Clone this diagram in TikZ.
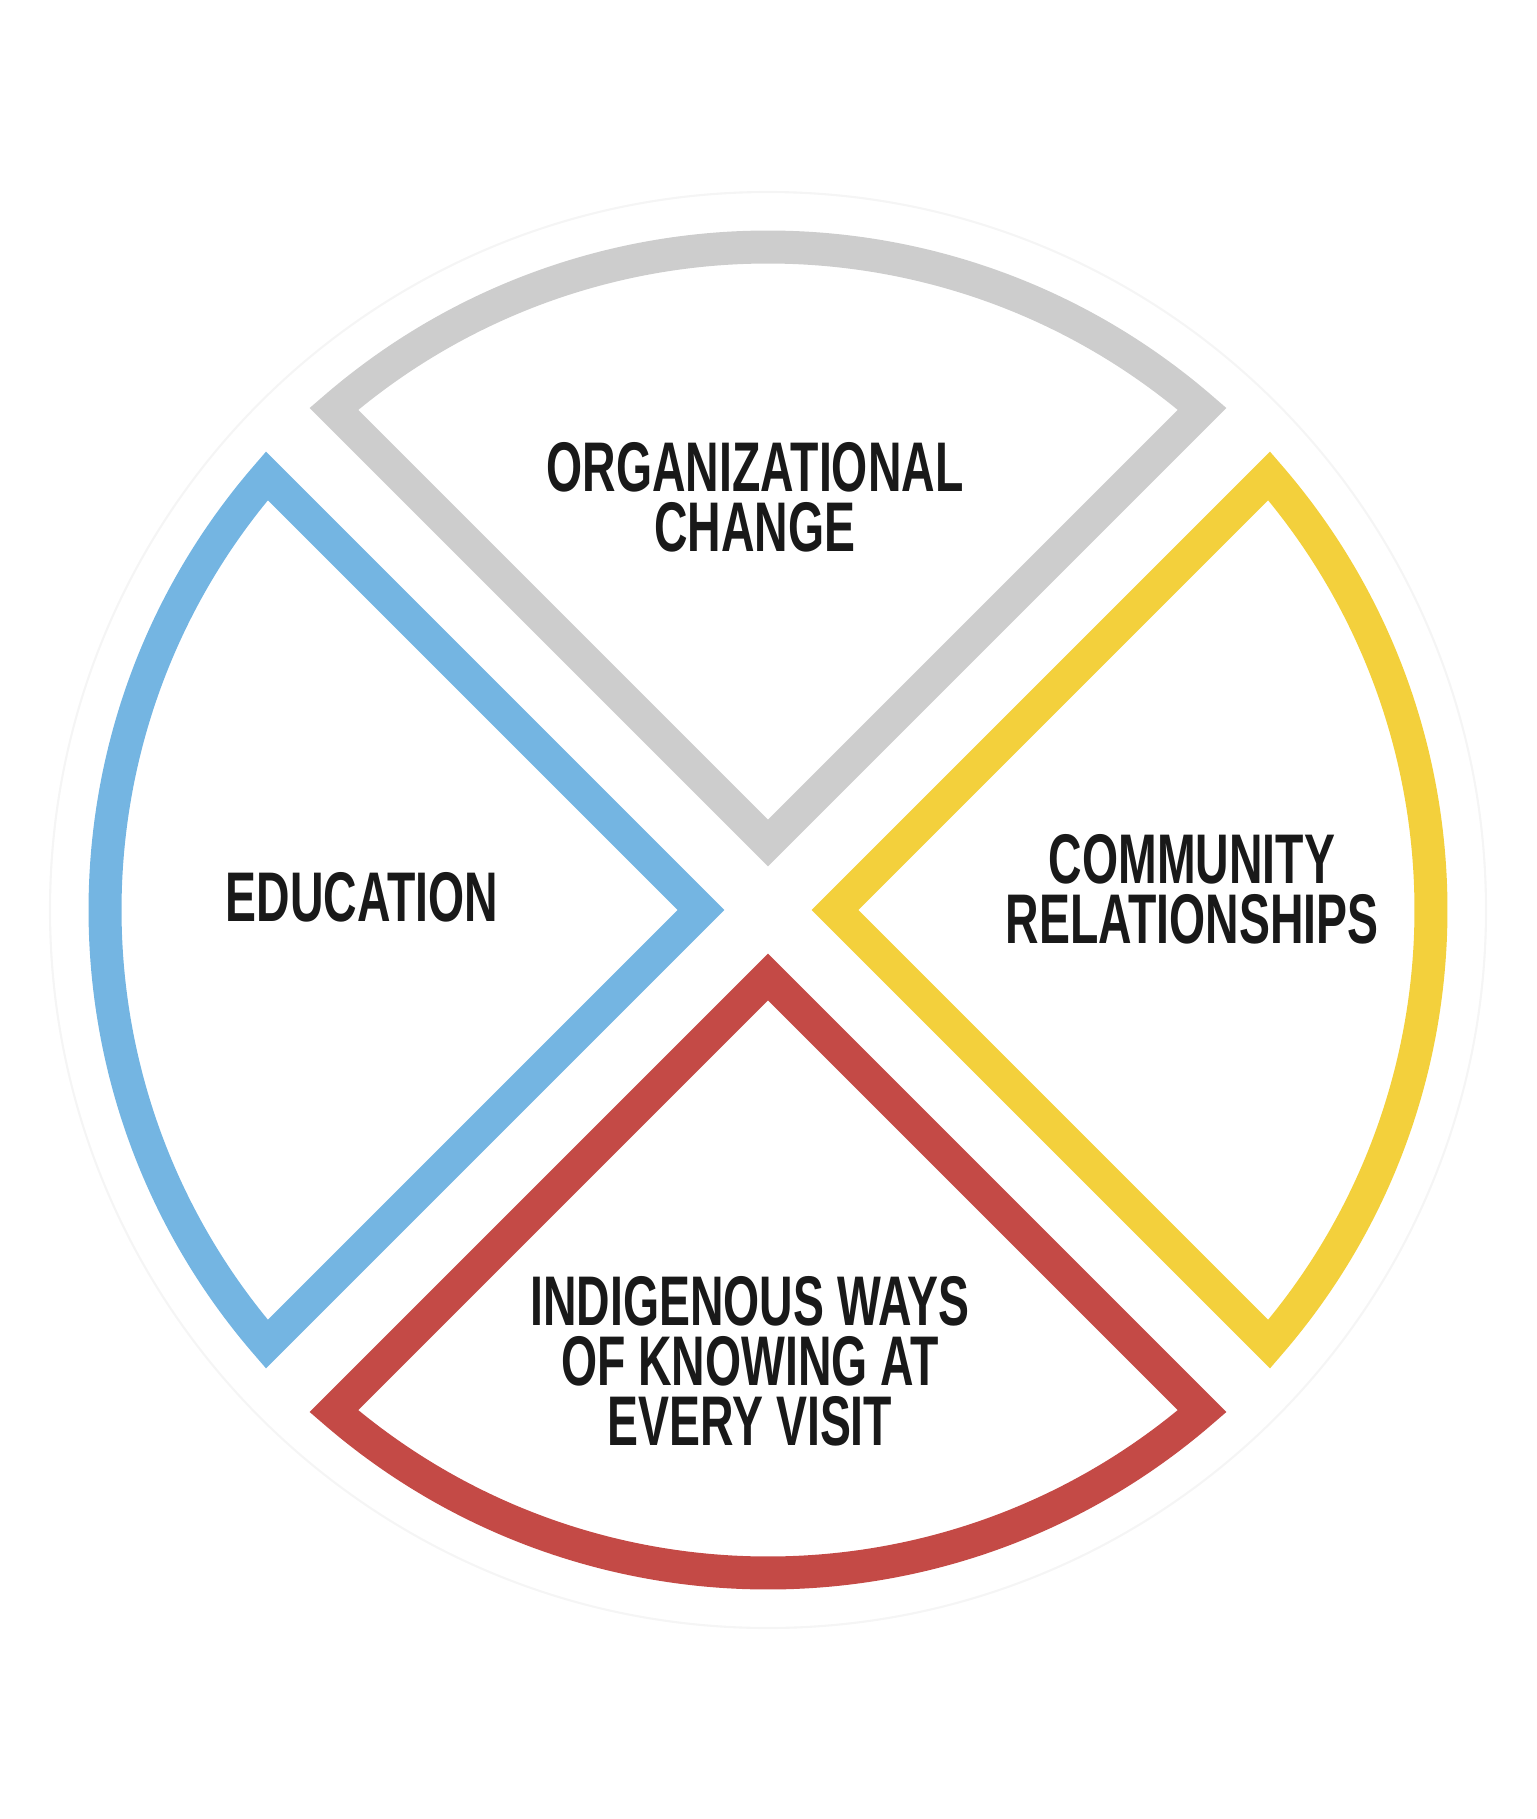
\documentclass[tikz,border=0pt]{standalone}
\usepackage{fontspec}
\setmainfont[FakeStretch=0.66]{Liberation Sans}
\definecolor{wgray}{RGB}{205,205,205}
\definecolor{wblue}{RGB}{116,181,226}
\definecolor{wyellow}{RGB}{243,208,60}
\definecolor{wred}{RGB}{196,74,70}
\tikzset{
  wedge/.style={line width=0.33cm, line join=miter, miter limit=10},
  lbl/.style={font=\fontsize{20}{17.1}\selectfont\bfseries, align=center, inner sep=0pt, text=black!90}
}
\begin{document}
\begin{tikzpicture}
\useasboundingbox (0,0) rectangle (15.36,-18.19);
\coordinate (C) at (7.68,-9.10);
\draw[black!4, line width=0.6pt] (C) circle[radius=7.18];
\foreach \t/\c in {90/wgray, 180/wblue, 270/wred, 0/wyellow}{
  \draw[wedge, draw=\c] ([shift={(\t:0.67)}]C) -- ([shift={(\t+40.9:6.63)}]C)
     arc[start angle=\t+40.9, end angle=\t-40.9, radius=6.63] -- cycle;
}
\node[lbl] (org) at (7.55,-4.97) {ORGANIZATIONAL\\CHANGE};
\node[lbl] (edu) at (3.62,-8.97) {EDUCATION};
\node[lbl] (com) at (11.92,-8.89) {COMMUNITY\\RELATIONSHIPS};
\node[lbl] (ind) at (7.50,-13.61) {INDIGENOUS WAYS\\OF KNOWING AT\\EVERY VISIT};
\end{tikzpicture}
\end{document}
